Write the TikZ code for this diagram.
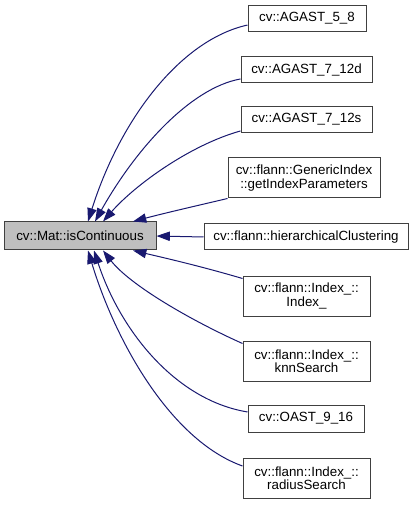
\documentclass[tikz,border=0pt]{standalone}
\usepackage{fontspec}
\setmainfont{Liberation Sans}
\usetikzlibrary{arrows.meta}
\definecolor{edgeblue}{RGB}{25,25,112}
\definecolor{boxgray}{RGB}{191,191,191}
\definecolor{boxline}{RGB}{64,64,64}
\tikzset{
  box/.style={draw=boxline, line width=0.75pt, fill=white, rectangle, inner sep=0pt,
    align=center, font=\fontsize{10pt}{10pt}\selectfont, minimum height=19.5pt},
  twoline/.style={minimum height=30pt},
  mainbox/.style={box, fill=boxgray, minimum height=21pt},
  edge/.style={draw=edgeblue, line width=0.75pt, -{Triangle[length=10pt,width=7pt]}}
}
\begin{document}
\begin{tikzpicture}[x=0.75pt,y=-0.75pt]
\useasboundingbox (0,0) rectangle (415,505);
\node[mainbox, minimum width=114pt] (main) at (80,236) {cv::Mat::isContinuous};
\node[box, minimum width=88.5pt] (a58) at (307,18.5) {cv::AGAST\_5\_8};
\node[box, minimum width=98.25pt] (a712d) at (306.5,69.5) {cv::AGAST\_7\_12d};
\node[box, minimum width=98.25pt] (a712s) at (306.5,119.5) {cv::AGAST\_7\_12s};
\node[box, twoline, minimum width=114pt] (gen) at (304,178) {cv::flann::GenericIndex\\::getIndexParameters};
\node[box, minimum width=153pt] (hier) at (306,237) {cv::flann::hierarchicalClustering};
\node[box, twoline, minimum width=95.25pt] (idx) at (306.5,296) {cv::flann::Index\_::\\Index\_};
\node[box, twoline, minimum width=95.25pt] (knn) at (306.5,361) {cv::flann::Index\_::\\knnSearch};
\node[box, minimum width=87pt, minimum height=20.25pt] (oast) at (306,418.5) {cv::OAST\_9\_16};
\node[box, twoline, minimum width=95.25pt] (rad) at (306.5,478) {cv::flann::Index\_::\\radiusSearch};

\draw[edge] ([yshift=-4.9pt]a58.west) .. controls (180,40) and (120,120) .. ([xshift=6pt]main.north);
\draw[edge] ([yshift=-7.1pt]a712d.west) .. controls (190,88) and (135,150) .. ([xshift=11.25pt]main.north);
\draw[edge] ([yshift=-8.6pt]a712s.west) .. controls (190,145) and (135,185) .. ([xshift=17.25pt]main.north);
\draw[edge] (gen.south west) .. controls (200,205) and (165,213) .. ([xshift=39.75pt]main.north);
\draw[edge] (hier.west) -- (main.east);
\draw[edge] ([yshift=-2.25pt]idx.north west) .. controls (200,266) and (165,258) .. ([xshift=39.75pt]main.south);
\draw[edge] ([yshift=-2.25pt]knn.north west) .. controls (190,320) and (130,285) .. ([xshift=17.25pt]main.south);
\draw[edge] ([yshift=4.9pt]oast.west) .. controls (175,400) and (120,330) .. ([xshift=10.5pt]main.south);
\draw[edge] ([yshift=9pt]rad.west) .. controls (170,440) and (115,340) .. ([xshift=6pt]main.south);
\end{tikzpicture}
\end{document}
